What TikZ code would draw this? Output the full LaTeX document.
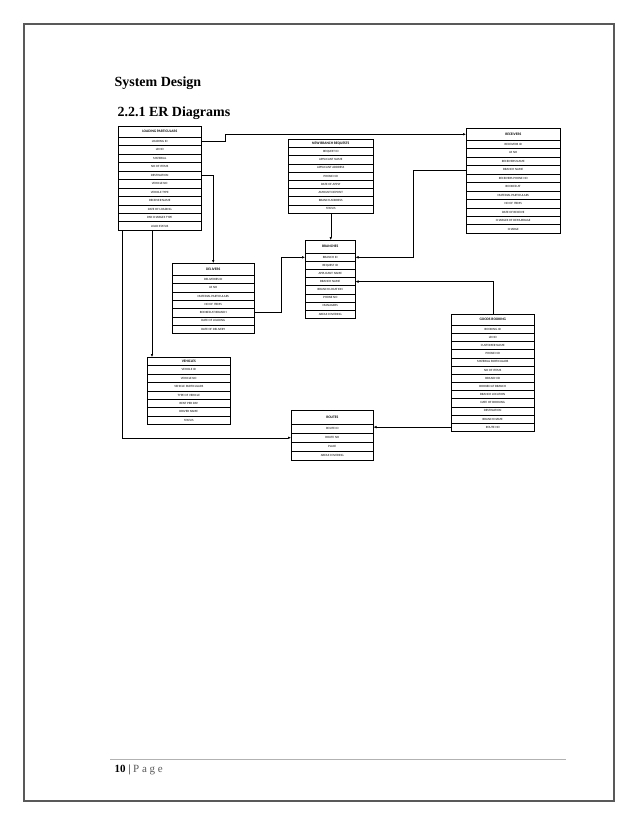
\documentclass[tikz,border=0pt]{standalone}
\usepackage{fontspec}
\setmainfont{Liberation Serif}
\newfontfamily\tabfont{Carlito}
\usetikzlibrary{arrows.meta}
\tikzset{
  cell/.style={draw, line width=0.5pt, inner sep=0pt, font=\tabfont\fontsize{3.2}{3.5}\selectfont, text=black},
  tcell/.style={cell, font=\tabfont\bfseries\fontsize{3.6}{4}\selectfont},
  link/.style={line width=0.5pt, -{Latex[length=3pt,width=2.6pt]}},
  plain/.style={line width=0.5pt}
}
\newcommand{\ertab}[8]{%
  \node[tcell, minimum width=#3pt, minimum height=#5pt, anchor=north west] (#1) at (#2,#4) {#7};
  \foreach \r [count=\i] in {#8} {
    \node[cell, minimum width=#3pt, minimum height=#6pt, anchor=north west] (#1-\i) at (#2,{#4+#5+(\i-1)*#6}) {\r};
  }%
}
\begin{document}
\begin{tikzpicture}[x=1pt,y=-1pt]
\useasboundingbox (0,0) rectangle (638,826);
\draw[gray!70!black, line width=1.5pt] (24,24) rectangle (614,801);
\node[anchor=base west, font=\bfseries\fontsize{14}{16}\selectfont] (h1) at (111,87) {System Design};
\node[anchor=base west, font=\bfseries\fontsize{14}{16}\selectfont] (h2) at (114,117) {2.2.1 ER Diagrams};

\ertab{lp}{118}{83}{126}{11}{8.45}{LOADING PARTICULARS}{LOADING ID,LR NO,MATERIAL,NO OF ITEMS,DESTINATION,VEHICLE NO,VEHICLE TYPE,RECEIVER NAME,DATE OF LOADING,PAR CHARGES TYPE,LOAD STATUS}
\ertab{nb}{288}{85}{139}{8.2}{8.2}{NEW BRANCH REQUESTS}{REQUEST ID,APPLICANT NAME,APPLICANT ADDRESS,PHONE NO,DATE OF APPLY,AMOUNT DEPOSIT,BRANCH ADDRESS,STATUS}
\ertab{rc}{466}{94}{128}{12}{8.45}{RECEIVERS}{RECEIVERS ID,LR NO,RECEIVERS NAME,BRANCH NAME,RECEIVERS PHONE NO,BOOKED AT,MATERIAL PARTICULARS,NO OF ITEMS,DATE OF RECEIVE,CHARGES OF DEMURRAGE,CHARGE}
\ertab{br}{305}{50}{240}{13}{8.1}{BRANCHES}{BRANCH ID,REQUEST ID,APPLICANT NAME,BRANCH NAME,BRANCH LOCATION,PHONE NO,MANAGERS,AREAS COVERING}
\ertab{dl}{172}{82}{263}{12}{8.3}{DELIVERS}{DELIVERIES ID,LR NO,MATERIAL PARTICULARS,NO OF ITEMS,BOOKED AT BRANCH,DATE OF LOADING,DATE OF DELIVERY}
\ertab{gb}{451}{83}{314}{11}{8.15}{GOODS BOOKING}{BOOKING ID,LR NO,CUSTOMER NAME,PHONE NO,MATERIAL PARTICULARS,NO OF ITEMS,BRANCH ID,BOOKED AT BRANCH,BRANCH LOCATION,DATE OF BOOKING,DESTINATION,BRANCH NAME,ROUTE NO}
\ertab{vh}{147}{83}{357}{8.4}{8.4}{VEHICLES}{VEHICLE ID,VEHICLE NO,VEHICLE PARTICULARS,TYPE OF VEHICLE,RENT PER DAY,DRIVER NAME,STATUS}
\ertab{rt}{291}{82}{410}{14}{9}{ROUTES}{ROUTE ID,ROUTE NO,PLACE,AREAS COVERING}

\coordinate (vtop) at ([xshift=5pt]vh.north west);
\coordinate (lsx) at ([xshift=4pt]lp-11.south west);
\draw[link] (lp-1.east) -- ++(24,0) |- (rc.west);
\draw[link] (lp-5.east) -| (dl.north);
\draw[link] (lsx) |- (rt-2.west);
\draw[link] (vtop |- lp-11.south) -- (vtop);
\draw[link] (nb-8.south) -- (nb-8.south |- br.north);
\draw[link] (dl-5.east) -- ++(27,0) |- (br-1.west);
\draw[link] (rc-4.west) -- ++(-53,0) |- (br-1.east);
\draw[link] (gb.north) |- (br-4.east);
\draw[link] (gb-13.west) -- (gb-13.west -| rt-1.east);

\draw[gray!60, line width=0.4pt] (110,759) -- (566,759);
\node[anchor=base west, font=\fontsize{11}{13}\selectfont] (pg) at (111,772) {\textbf{10} | {\color{gray!70!black}P a g e}};
\end{tikzpicture}
\end{document}
